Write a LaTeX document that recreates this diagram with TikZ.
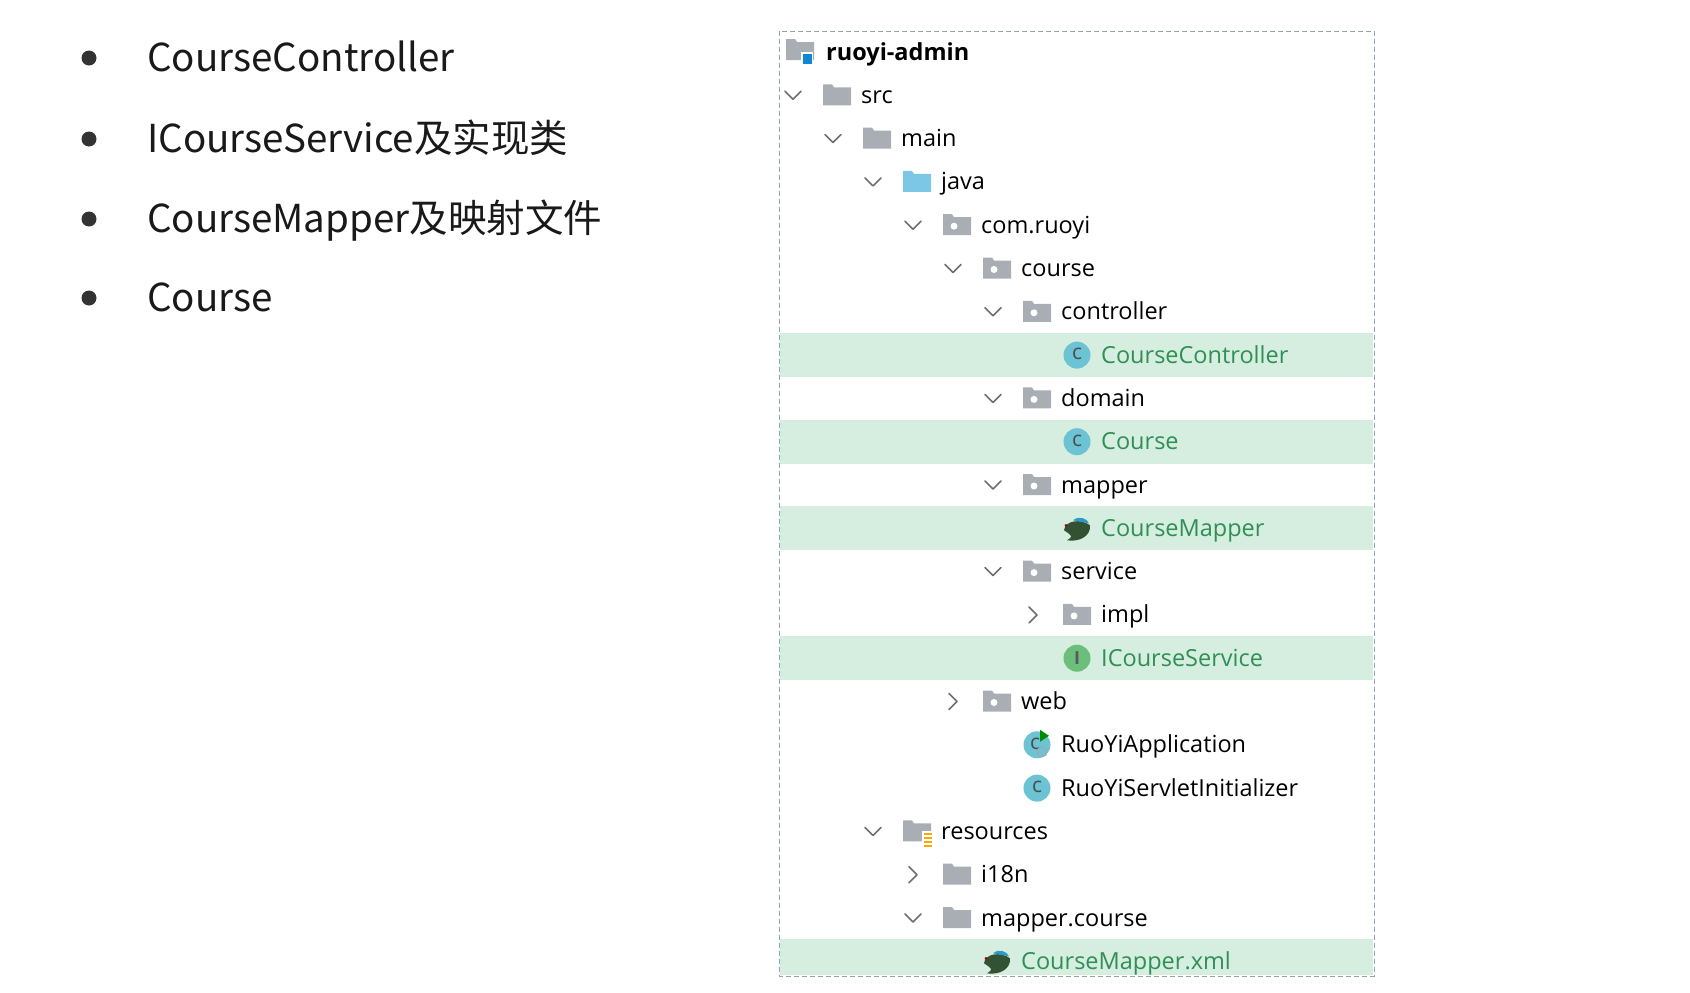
\documentclass[tikz,border=0pt]{standalone}
\usepackage{fontspec}
\setmainfont{Open Sans}
\newfontfamily\cjk{Noto Sans CJK SC}
\definecolor{fgray}{HTML}{A9ADB4}
\definecolor{fblue}{HTML}{7CC7E6}
\definecolor{hlgreen}{HTML}{D5EEDF}
\definecolor{tgreen}{HTML}{2F8F55}
\definecolor{cteal}{HTML}{6CC3D3}
\definecolor{igreen}{HTML}{6CBE7B}
\definecolor{chev}{HTML}{6E6E6E}
\definecolor{boxline}{HTML}{8FA3B8}
\begin{document}
\begin{tikzpicture}[x=1pt,y=-1pt,
  lbl/.style={font=\fontsize{23.5}{28}\selectfont, inner sep=0pt, text=black},
  grn/.style={text=tgreen},
  bul/.style={font=\cjk\fontsize{38.5}{44}\selectfont, inner sep=0pt, anchor=base west, text=black!90},
  hl/.style={fill=hlgreen},
  none/.pic={},
  chevdown/.pic={\draw[chev, line width=1.6pt, line cap=round, line join=round] (-8,-4) -- (0,4) -- (8,-4);},
  chevright/.pic={\draw[chev, line width=1.6pt, line cap=round, line join=round] (-4,-8) -- (4,0) -- (-4,8);},
  folder/.pic={\fill[fgray] (-14,-11) -- (-5,-11) -- (-3,-8) -- (14,-8) -- (14,10) -- (-14,10) -- cycle;},
  jfolder/.pic={\fill[fblue] (-14,-11) -- (-5,-11) -- (-3,-8) -- (14,-8) -- (14,10) -- (-14,10) -- cycle;},
  pkg/.pic={\fill[fgray] (-14,-11) -- (-5,-11) -- (-3,-8) -- (14,-8) -- (14,10) -- (-14,10) -- cycle;
            \fill[white] (-3,1) circle (3.5);},
  res/.pic={\fill[fgray] (-14,-11) -- (-5,-11) -- (-3,-8) -- (14,-8) -- (14,10) -- (-14,10) -- cycle;
            \fill[white] (5,0) rectangle (16,15);
            \foreach \k in {2,6,10,14}{\fill[orange!70!yellow] (7,\k) rectangle (15,\k+2);}},
  module/.pic={\fill[fgray] (-14,-13) -- (-5,-13) -- (-3,-10) -- (14,-10) -- (14,8) -- (-14,8) -- cycle;
            \fill[white] (1,0) rectangle (13,13);
            \fill[cyan!70!blue] (3,2) rectangle (12,12);},
  cls/.pic={\fill[cteal] (0,0) circle (13.5); \node[font=\fontsize{21}{21}\selectfont, text=black!70, inner sep=0pt] at (0,-1) {c};},
  intf/.pic={\fill[igreen] (0,0) circle (13.5); \node[font=\bfseries\fontsize{18}{18}\selectfont, text=black!65, inner sep=0pt] at (0,0) {I};},
  app/.pic={\fill[cteal] (0,0) circle (13.5); \node[font=\fontsize{21}{21}\selectfont, text=black!70, inner sep=0pt] at (-2,-1) {c};
            \fill[green!55!black] (3,-15) -- (12,-9) -- (3,-3) -- cycle;
            \draw[black!35, line width=1pt] (5,7) circle (5);},
  mapper/.pic={\fill[black!80!green!60!gray] (-13,2) .. controls (-12,-8) and (4,-10) .. (13,-3) .. controls (14,8) and (2,14) .. (-10,12) .. controls (-4,8) .. (-13,2) -- cycle;
            \fill[cyan!60!teal] (-4,-8) .. controls (2,-13) and (10,-10) .. (12,-5) .. controls (4,-7) .. (-4,-8) -- cycle;
            \fill[red!60!black] (-11,-3) circle (1.5);}
]
\useasboundingbox (0,0) rectangle (1690,993);
\newcommand\hlrow[1]{\fill[hl] (780,{max(32,52+43.3*#1-22)}) rectangle (1373,{min(975,52+43.3*#1+22)});}
\newcommand\trow[7][]{%
  \pgfmathsetmacro\ry{52+43.3*#3}%
  \pgfmathsetmacro\cx{793+40*(#4-1)}%
  \pgfmathsetmacro\ix{837+40*(#4-1)}%
  \pgfmathsetmacro\tx{861+40*(#4-1)}%
  \pic at (\cx,\ry) {#7};
  \pic at (\ix,\ry) {#5};
  \node[lbl, anchor=base west, #1] (#2) at (\tx,\ry+8) {#6};
}
% highlights
\hlrow{7}\hlrow{9}\hlrow{11}\hlrow{14}\hlrow{21}
% box
\draw[boxline, line width=0.8pt, dash pattern=on 5pt off 3pt] (779,31) rectangle (1374,976);
% tree
\pic at (800,52) {module};
\node[lbl, anchor=base west, font=\bfseries\fontsize{23.5}{28}\selectfont] (admin) at (826,60) {ruoyi-admin};
\trow{src}{1}{1}{folder}{src}{chevdown}
\trow{main}{2}{2}{folder}{main}{chevdown}
\trow{java}{3}{3}{jfolder}{java}{chevdown}
\trow{com}{4}{4}{pkg}{com.ruoyi}{chevdown}
\trow{course}{5}{5}{pkg}{course}{chevdown}
\trow{controller}{6}{6}{pkg}{controller}{chevdown}
\trow[grn]{cc}{7}{7}{cls}{CourseController}{none}
\trow{domain}{8}{6}{pkg}{domain}{chevdown}
\trow[grn]{courseC}{9}{7}{cls}{Course}{none}
\trow{mapper}{10}{6}{pkg}{mapper}{chevdown}
\trow[grn]{cm}{11}{7}{mapper}{CourseMapper}{none}
\trow{service}{12}{6}{pkg}{service}{chevdown}
\trow{impl}{13}{7}{pkg}{impl}{chevright}
\trow[grn]{ics}{14}{7}{intf}{ICourseService}{none}
\trow{web}{15}{5}{pkg}{web}{chevright}
\trow{app}{16}{6}{app}{RuoYiApplication}{none}
\trow{init}{17}{6}{cls}{RuoYiServletInitializer}{none}
\trow{resources}{18}{3}{res}{resources}{chevdown}
\trow{i18n}{19}{4}{folder}{i18n}{chevright}
\trow{mc}{20}{4}{folder}{mapper.course}{chevdown}
\trow[grn]{xml}{21}{5}{mapper}{CourseMapper.xml}{none}
% bullets
\foreach \yy/\nm in {58/b1,139/b2,219/b3,298/b4}{\fill[black!80] (89,\yy) circle (7.5);}
\node[bul] (t1) at (147,71) {CourseController};
\node[bul] (t2) at (147,152) {ICourseService及实现类};
\node[bul] (t3) at (147,232) {CourseMapper及映射文件};
\node[bul] (t4) at (147,311) {Course};
\end{tikzpicture}
\end{document}
